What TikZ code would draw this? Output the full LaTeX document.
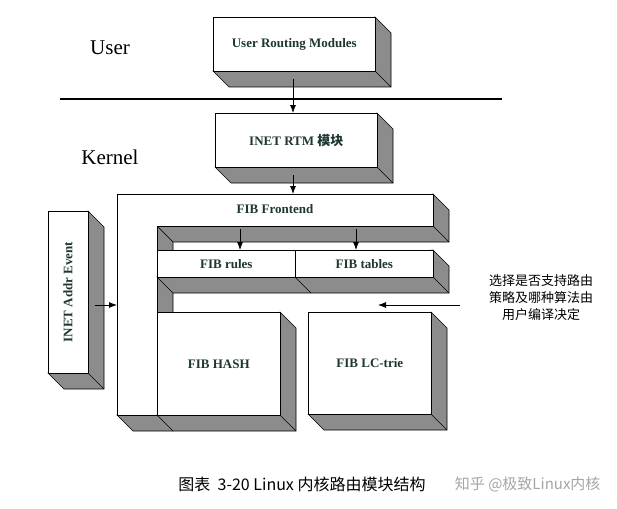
\documentclass[tikz,border=0pt]{standalone}
\usepackage{fontspec}
\setmainfont{Liberation Serif}
\newfontfamily\cjk{Noto Sans CJK SC}
\usetikzlibrary{arrows.meta}
\definecolor{shd}{RGB}{140,140,140}
\definecolor{txt}{RGB}{30,55,50}
\newcommand{\shadowbox}[4]{%
  \filldraw[fill=shd,draw=black,line width=0.6pt] (#1,#4)--(#1+16,#4+16)--(#3+16,#4+16)--(#3+16,#2+16)--(#3,#2)--cycle;
  \draw[line width=0.6pt] (#3,#4)--(#3+16,#4+16);}
\tikzset{
  front/.style={draw=black,fill=white,line width=0.6pt,inner sep=0pt,font=\bfseries\fontsize{13}{15}\selectfont,text=txt,anchor=north west},
  arr/.style={-{Latex[length=8pt,width=6pt]},line width=0.8pt}
}
\begin{document}
\begin{tikzpicture}[x=1pt,y=-1pt]
\useasboundingbox (0,0) rectangle (617,508);
\fill[white] (0,0) rectangle (617,508);
% User
\node[font=\fontsize{21}{24}\selectfont] (user) at (110,48) {User};
\node[font=\fontsize{21}{24}\selectfont] (kernel) at (110,157) {Kernel};
\draw[line width=2.5pt] (60,99) -- (502,99);
\shadowbox{213}{17}{375}{71}
\node[front,minimum width=162pt,minimum height=54pt] (urm) at (213,17) {User Routing Modules};
\shadowbox{215}{113}{377}{167}
\node[front,minimum width=162pt,minimum height=54pt] (rtm) at (215,113) {INET RTM {\cjk 模块}};
% Frontend E-shape
\filldraw[fill=shd,draw=black,line width=0.6pt] (157,226)--(173,242)--(449,242)--(449,210)--(433,194)--(433,226)--cycle;
\filldraw[fill=shd,draw=black,line width=0.6pt] (157,226)--(173,242)--(173,431)--(133,431)--(117,415)--(157,415)--cycle;
\filldraw[fill=white,draw=black,line width=0.6pt] (117,194)--(433,194)--(433,226)--(157,226)--(157,415)--(117,415)--cycle;
\draw[line width=0.6pt] (433,226)--(449,242);
\node[font=\bfseries\fontsize{13}{15}\selectfont,text=txt] (fe) at (275,209) {FIB Frontend};
% rules/tables
\shadowbox{157}{250}{433}{277}
\draw[line width=0.6pt] (295,277)--(311,293);
\node[front,minimum width=138pt,minimum height=27pt] (rules) at (157,250) {FIB rules};
\node[front,minimum width=138pt,minimum height=27pt] (tables) at (295,250) {FIB tables};
% HASH / LC-trie
\shadowbox{157}{312}{280}{415}
\node[front,minimum width=123pt,minimum height=103pt] (hash) at (157,312) {FIB HASH};
\shadowbox{308}{312}{431}{414}
\node[front,minimum width=123pt,minimum height=102pt] (lc) at (308,312) {FIB LC-trie};
% INET Addr Event
\shadowbox{48}{211}{88}{373}
\node[front,minimum width=40pt,minimum height=162pt] (addr) at (48,211) {};
\node[rotate=90,font=\bfseries\fontsize{13}{15}\selectfont,text=txt] (addrt) at (68,292) {INET Addr Event};
% arrows
\coordinate (a1) at (293,79);
\draw[arr] (a1) -- (rtm.north -| a1);
\coordinate (a2) at (293,175);
\draw[arr] (a2) -- (293,194);
\coordinate (r1) at (240,229);
\draw[arr] (r1) -- (rules.north -| r1);
\coordinate (t1) at (356,229);
\draw[arr] (t1) -- (tables.north -| t1);
\coordinate (ae) at (95,305);
\draw[arr] (ae) -- (117,305);
\node[font=\cjk\fontsize{13}{17}\selectfont,align=center] (note) at (541,298) {选择是否支持路由\\策略及哪种算法由\\用户编译决定};
\coordinate (n1) at (460,305);
\draw[arr] (n1) -- (378,305);
\node[font=\cjk\fontsize{16}{19}\selectfont] (cap) at (302,484) {图表\ \ 3-20 Linux 内核路由模块结构};
\node[font=\cjk\fontsize{15}{18}\selectfont,text=black!35,anchor=east] (wm) at (604,484) {知乎 @极致Linux内核};
\end{tikzpicture}
\end{document}
